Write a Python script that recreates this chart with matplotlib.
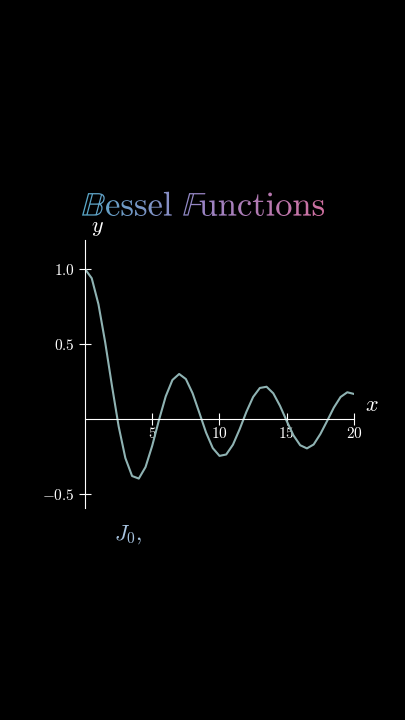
import numpy as np
import matplotlib
matplotlib.use("Agg")
import matplotlib.pyplot as plt
from matplotlib.textpath import TextPath
from matplotlib.patches import PathPatch
from matplotlib.transforms import Affine2D
from matplotlib.colors import LinearSegmentedColormap

plt.rcParams['mathtext.fontset'] = 'cm'

x_vals = [0, 0.5, 1, 1.5, 2, 2.5, 3, 3.5, 4, 4.5, 5, 5.5, 6, 6.5, 7, 7.5, 8, 8.5, 9, 9.5,
          10, 10.5, 11, 11.5, 12, 12.5, 13, 13.5, 14, 14.5, 15, 15.5, 16, 16.5, 17, 17.5,
          18, 18.5, 19, 19.5, 20]
j0_vals = [1.0, 0.9385, 0.7652, 0.5118, 0.2239, -0.0484, -0.2601, -0.3801, -0.3971, -0.3205,
           -0.1776, -0.0068, 0.1506, 0.2601, 0.3001, 0.2663, 0.1717, 0.0419, -0.0903, -0.1939,
           -0.2459, -0.2366, -0.1712, -0.0677, 0.0477, 0.1469, 0.2069, 0.2150, 0.1711, 0.0875,
           -0.0142, -0.1092, -0.1749, -0.1960, -0.1699, -0.1000, -0.0134, 0.0760, 0.1466, 0.1782, 0.1670]
x_ticks = [5, 10, 15, 20]
y_ticks = [-0.5, 0.5, 1.0]
y_tick_labels = [r'$-0.5$', r'$0.5$', r'$1.0$']

W, H = 405, 720
fig = plt.figure(figsize=(4.05, 7.2), dpi=100, facecolor='black')

ax = fig.add_axes([85/W, (H-508)/H, 269/W, 268/H])
ax.set_facecolor('black')
ax.set_xlim(0, 20)
ax.set_ylim(-(508-419)/150, (419-240)/150)
ax.plot(x_vals, j0_vals, color='#8fb3b3', lw=1.5)
for s in ['top', 'right']:
    ax.spines[s].set_visible(False)
for s in ['left', 'bottom']:
    ax.spines[s].set_color('white')
    ax.spines[s].set_position(('data', 0))
ax.set_xticks(x_ticks)
ax.set_xticklabels([rf'${t}$' for t in x_ticks])
ax.set_yticks(y_ticks)
ax.set_yticklabels(y_tick_labels)
ax.tick_params(colors='white', direction='inout', length=8, labelsize=11)
ax.tick_params(axis='x', pad=1)

fig.text(372/W, 1-405/H, r'$x$', color='white', fontsize=16, ha='center', va='center')
fig.text(97/W, 1-228/H, r'$y$', color='white', fontsize=16, ha='center', va='center')
fig.text(114/W, 1-535/H, r'$J_0,$', color='#a8c4e0', fontsize=16, ha='left', va='center')

# gradient title
oax = fig.add_axes([0, 0, 1, 1])
oax.set_xlim(0, W); oax.set_ylim(0, H); oax.axis('off'); oax.patch.set_alpha(0)
tp = TextPath((0, 0), r'$\mathbb{B}\mathrm{essel}\ \mathbb{F}\mathrm{unctions}$', size=22)
ext = tp.get_extents()
sc = 242 / ext.width
tr = Affine2D().translate(-ext.x0, -ext.y0).scale(sc).translate(82, H-216)
path = tr.transform_path(tp)
pe = path.get_extents()
patch = PathPatch(path, facecolor='none', edgecolor='none')
oax.add_patch(patch)
cmap = LinearSegmentedColormap.from_list('g', ['#58a8c8', '#9a84c4', '#d070a0'])
grad = np.linspace(0, 1, 256).reshape(1, -1)
im = oax.imshow(grad, cmap=cmap, extent=[pe.x0, pe.x1, pe.y0, pe.y1], aspect='auto')
im.set_clip_path(patch)
oax.set_xlim(0, W); oax.set_ylim(0, H)

fig.savefig('out.png', dpi=100, facecolor='black')
